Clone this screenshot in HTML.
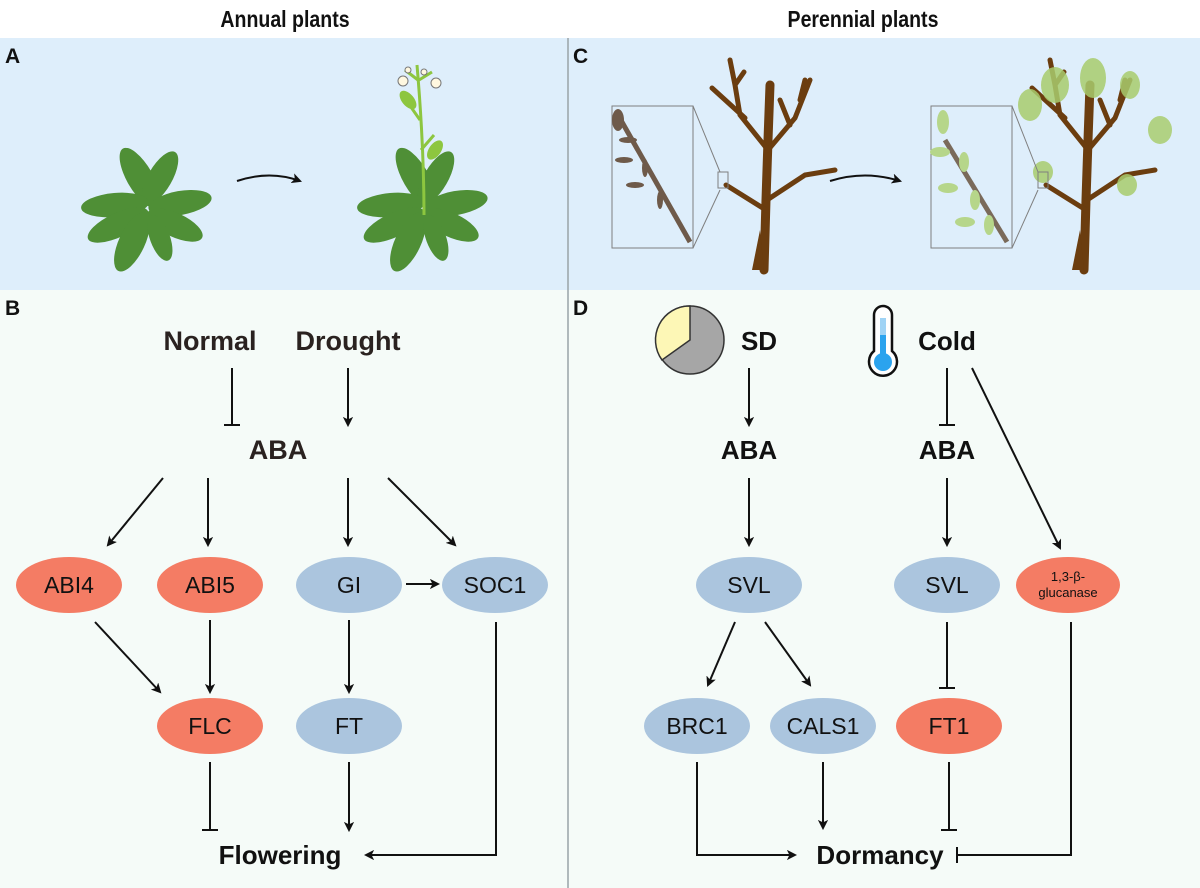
<!DOCTYPE html>
<html><head><meta charset="utf-8"><style>
body{margin:0;background:#fff;}
svg{display:block;font-family:"Liberation Sans",Arial,sans-serif;}
</style></head><body>
<svg width="1200" height="888" viewBox="0 0 1200 888" xmlns="http://www.w3.org/2000/svg">
<defs>
<marker id="ar" markerWidth="10" markerHeight="10" refX="8" refY="5" orient="auto" markerUnits="userSpaceOnUse"><path d="M1,1 L9,5 L1,9 L3,5 Z" fill="#111" stroke="#111" stroke-width="1"/></marker>
</defs>
<rect x="0" y="0" width="1200" height="888" fill="#fff"/>
<rect x="0" y="38" width="1200" height="252" fill="#deeefb"/>
<rect x="0" y="290" width="1200" height="598" fill="#f5fbf8"/>
<line x1="568" y1="38" x2="568" y2="888" stroke="#9aa3a8" stroke-width="1.5"/>
<g font-weight="bold" font-size="23" fill="#111">
<text x="285" y="27" text-anchor="middle" transform="translate(285 0) scale(0.85 1) translate(-285 0)">Annual plants</text>
<text x="863" y="27" text-anchor="middle" transform="translate(863 0) scale(0.85 1) translate(-863 0)">Perennial plants</text>
<text x="5" y="63" font-size="21">A</text>
<text x="573" y="63" font-size="21">C</text>
<text x="5" y="315" font-size="21">B</text>
<text x="573" y="315" font-size="21">D</text>
</g>
<g id="ros" fill="#4f8f36">
<ellipse cx="140" cy="178" rx="13" ry="34" transform="rotate(-30 140 178)"/>
<ellipse cx="160" cy="178" rx="12" ry="30" transform="rotate(30 160 178)"/>
<ellipse cx="115" cy="205" rx="34" ry="12" transform="rotate(-5 115 205)"/>
<ellipse cx="180" cy="203" rx="32" ry="12" transform="rotate(-10 180 203)"/>
<ellipse cx="118" cy="225" rx="33" ry="12" transform="rotate(-25 118 225)"/>
<ellipse cx="175" cy="225" rx="30" ry="12" transform="rotate(25 175 225)"/>
<ellipse cx="132" cy="242" rx="13" ry="32" transform="rotate(25 132 242)"/>
<ellipse cx="160" cy="238" rx="10" ry="24" transform="rotate(-20 160 238)"/>
</g>
<use href="#ros" transform="translate(276 0)"/>
<g stroke="#8dc63f" stroke-width="3" fill="none">
<path d="M424,215 C424,160 420,100 417,65"/>
<path d="M420,120 L406,100 M421,150 L434,135 M418,80 L405,70 M419,80 L432,72"/>
</g>
<ellipse cx="408" cy="100" rx="6" ry="11" fill="#8dc63f" transform="rotate(-40 408 100)"/>
<ellipse cx="435" cy="150" rx="6" ry="11" fill="#8dc63f" transform="rotate(35 435 150)"/>
<g fill="#fff8e0" stroke="#777" stroke-width="1"><circle cx="403" cy="81" r="5"/><circle cx="436" cy="83" r="5"/><circle cx="408" cy="70" r="3"/><circle cx="424" cy="72" r="3"/></g>
<path d="M237,181 Q270,170 300,181" fill="none" stroke="#111" stroke-width="2" marker-end="url(#ar)"/>
<path d="M830,181 Q865,170 900,181" fill="none" stroke="#111" stroke-width="2" marker-end="url(#ar)"/>
<g id="tree" stroke="#6b3d0f" fill="none" stroke-linecap="round">
<path d="M764,270 L766,200 L768,140 L770,85" stroke-width="9"/>
<path d="M766,210 L726,185 M767,200 L805,175 L835,170 M768,150 L740,115 L735,85 L730,60 M768,150 L795,118 L810,80 M745,118 L712,88 M790,125 L780,100 M735,85 L744,72 M800,100 L805,80" stroke-width="5"/>
<path d="M764,270 L752,270 L760,230 Z" fill="#6b3d0f" stroke="none"/>
</g>
<use href="#tree" transform="translate(320 0)"/>
<g fill="#a9cc6e" opacity="0.85">
<ellipse cx="1055" cy="85" rx="14" ry="18"/><ellipse cx="1093" cy="78" rx="13" ry="20"/><ellipse cx="1130" cy="85" rx="10" ry="14"/>
<ellipse cx="1030" cy="105" rx="12" ry="16"/><ellipse cx="1160" cy="130" rx="12" ry="14"/><ellipse cx="1127" cy="185" rx="10" ry="11"/><ellipse cx="1043" cy="172" rx="10" ry="11"/>
</g>
<g fill="none" stroke="#7f7f7f" stroke-width="1">
<rect x="612" y="106" width="81" height="142"/><line x1="693" y1="106" x2="720" y2="172"/><line x1="693" y1="248" x2="720" y2="190"/><rect x="718" y="172" width="10" height="16"/>
<rect x="931" y="106" width="81" height="142"/><line x1="1012" y1="106" x2="1038" y2="172"/><line x1="1012" y1="248" x2="1038" y2="190"/><rect x="1038" y="172" width="10" height="16"/>
</g>
<path d="M618,115 L690,242" stroke="#6e5a4a" stroke-width="5" fill="none"/>
<ellipse cx="618" cy="120" rx="6" ry="11" fill="#6e5a4a"/>
<g fill="#6e5a4a"><ellipse cx="628" cy="140" rx="9" ry="3"/><ellipse cx="624" cy="160" rx="9" ry="3"/><ellipse cx="645" cy="168" rx="3" ry="9"/><ellipse cx="635" cy="185" rx="9" ry="3"/><ellipse cx="660" cy="200" rx="3" ry="9"/></g>
<path d="M945,140 L1007,242" stroke="#7a6a5a" stroke-width="5" fill="none"/>
<g fill="#b6d68a"><ellipse cx="943" cy="122" rx="6" ry="12"/><ellipse cx="940" cy="152" rx="10" ry="5"/><ellipse cx="964" cy="162" rx="5" ry="10"/><ellipse cx="948" cy="188" rx="10" ry="5"/><ellipse cx="975" cy="200" rx="5" ry="10"/><ellipse cx="965" cy="222" rx="10" ry="5"/><ellipse cx="989" cy="225" rx="5" ry="10"/></g>
<circle cx="690" cy="340" r="34" fill="#a6a6a6" stroke="#333" stroke-width="1.5"/>
<path d="M690,340 L690,306 A34,34 0 0 0 662,360 Z" fill="#fdf7b6" stroke="#333" stroke-width="1.5"/>
<path d="M874,315 a9,9 0 0 1 18,0 v36 a14,14 0 1 1 -18,0 z" fill="#fff" stroke="#111" stroke-width="2.5"/>
<rect x="880" y="318" width="6" height="40" fill="#9fd3f5"/><circle cx="883" cy="362" r="9" fill="#2ba3ee"/><rect x="880" y="335" width="6" height="26" fill="#2ba3ee"/>
<g font-weight="bold" font-size="27" fill="#2a2220" text-anchor="middle">
<text x="210" y="350">Normal</text><text x="348" y="350">Drought</text><text x="278" y="459">ABA</text>
</g>
<g font-weight="bold" font-size="26" fill="#111" text-anchor="middle">
<text x="280" y="864">Flowering</text>
<text x="759" y="350">SD</text><text x="947" y="350">Cold</text>
<text x="749" y="459">ABA</text><text x="947" y="459">ABA</text>
<text x="880" y="864">Dormancy</text>
</g>
<g>
<ellipse cx="69" cy="585" rx="53" ry="28" fill="#f47c64"/>
<ellipse cx="210" cy="585" rx="53" ry="28" fill="#f47c64"/>
<ellipse cx="349" cy="585" rx="53" ry="28" fill="#abc5de"/>
<ellipse cx="495" cy="585" rx="53" ry="28" fill="#abc5de"/>
<ellipse cx="210" cy="726" rx="53" ry="28" fill="#f47c64"/>
<ellipse cx="349" cy="726" rx="53" ry="28" fill="#abc5de"/>
<ellipse cx="749" cy="585" rx="53" ry="28" fill="#abc5de"/>
<ellipse cx="947" cy="585" rx="53" ry="28" fill="#abc5de"/>
<ellipse cx="1068" cy="585" rx="52" ry="28" fill="#f47c64"/>
<ellipse cx="697" cy="726" rx="53" ry="28" fill="#abc5de"/>
<ellipse cx="823" cy="726" rx="53" ry="28" fill="#abc5de"/>
<ellipse cx="949" cy="726" rx="53" ry="28" fill="#f47c64"/>
</g>
<g font-size="23" fill="#111" text-anchor="middle">
<text x="69" y="593">ABI4</text><text x="210" y="593">ABI5</text><text x="349" y="593">GI</text><text x="495" y="593">SOC1</text>
<text x="210" y="734">FLC</text><text x="349" y="734">FT</text>
<text x="749" y="593">SVL</text><text x="947" y="593">SVL</text>
<text x="697" y="734">BRC1</text><text x="823" y="734">CALS1</text><text x="949" y="734">FT1</text>
<text x="1068" y="581" font-size="13">1,3-β-</text><text x="1068" y="597" font-size="13">glucanase</text>
</g>
<g stroke="#111" stroke-width="2" fill="none">
<line x1="232" y1="368" x2="232" y2="425"/><line x1="224" y1="425" x2="240" y2="425"/>
<line x1="348" y1="368" x2="348" y2="425" marker-end="url(#ar)"/>
<line x1="163" y1="478" x2="108" y2="545" marker-end="url(#ar)"/>
<line x1="208" y1="478" x2="208" y2="545" marker-end="url(#ar)"/>
<line x1="348" y1="478" x2="348" y2="545" marker-end="url(#ar)"/>
<line x1="388" y1="478" x2="455" y2="545" marker-end="url(#ar)"/>
<line x1="406" y1="584" x2="438" y2="584" marker-end="url(#ar)"/>
<line x1="95" y1="622" x2="160" y2="692" marker-end="url(#ar)"/>
<line x1="210" y1="620" x2="210" y2="692" marker-end="url(#ar)"/>
<line x1="349" y1="620" x2="349" y2="692" marker-end="url(#ar)"/>
<polyline points="496,622 496,855 366,855" marker-end="url(#ar)"/>
<line x1="210" y1="762" x2="210" y2="830"/><line x1="202" y1="830" x2="218" y2="830"/>
<line x1="349" y1="762" x2="349" y2="830" marker-end="url(#ar)"/>
<line x1="749" y1="368" x2="749" y2="425" marker-end="url(#ar)"/>
<line x1="947" y1="368" x2="947" y2="425"/><line x1="939" y1="425" x2="955" y2="425"/>
<line x1="972" y1="368" x2="1060" y2="548" marker-end="url(#ar)"/>
<line x1="749" y1="478" x2="749" y2="545" marker-end="url(#ar)"/>
<line x1="947" y1="478" x2="947" y2="545" marker-end="url(#ar)"/>
<line x1="735" y1="622" x2="708" y2="685" marker-end="url(#ar)"/>
<line x1="765" y1="622" x2="810" y2="685" marker-end="url(#ar)"/>
<line x1="947" y1="622" x2="947" y2="688"/><line x1="939" y1="688" x2="955" y2="688"/>
<polyline points="697,762 697,855 795,855" marker-end="url(#ar)"/>
<line x1="823" y1="762" x2="823" y2="828" marker-end="url(#ar)"/>
<line x1="949" y1="762" x2="949" y2="830"/><line x1="941" y1="830" x2="957" y2="830"/>
<polyline points="1071,622 1071,855 957,855"/><line x1="957" y1="847" x2="957" y2="863"/>
</g>
</svg>
</body></html>
